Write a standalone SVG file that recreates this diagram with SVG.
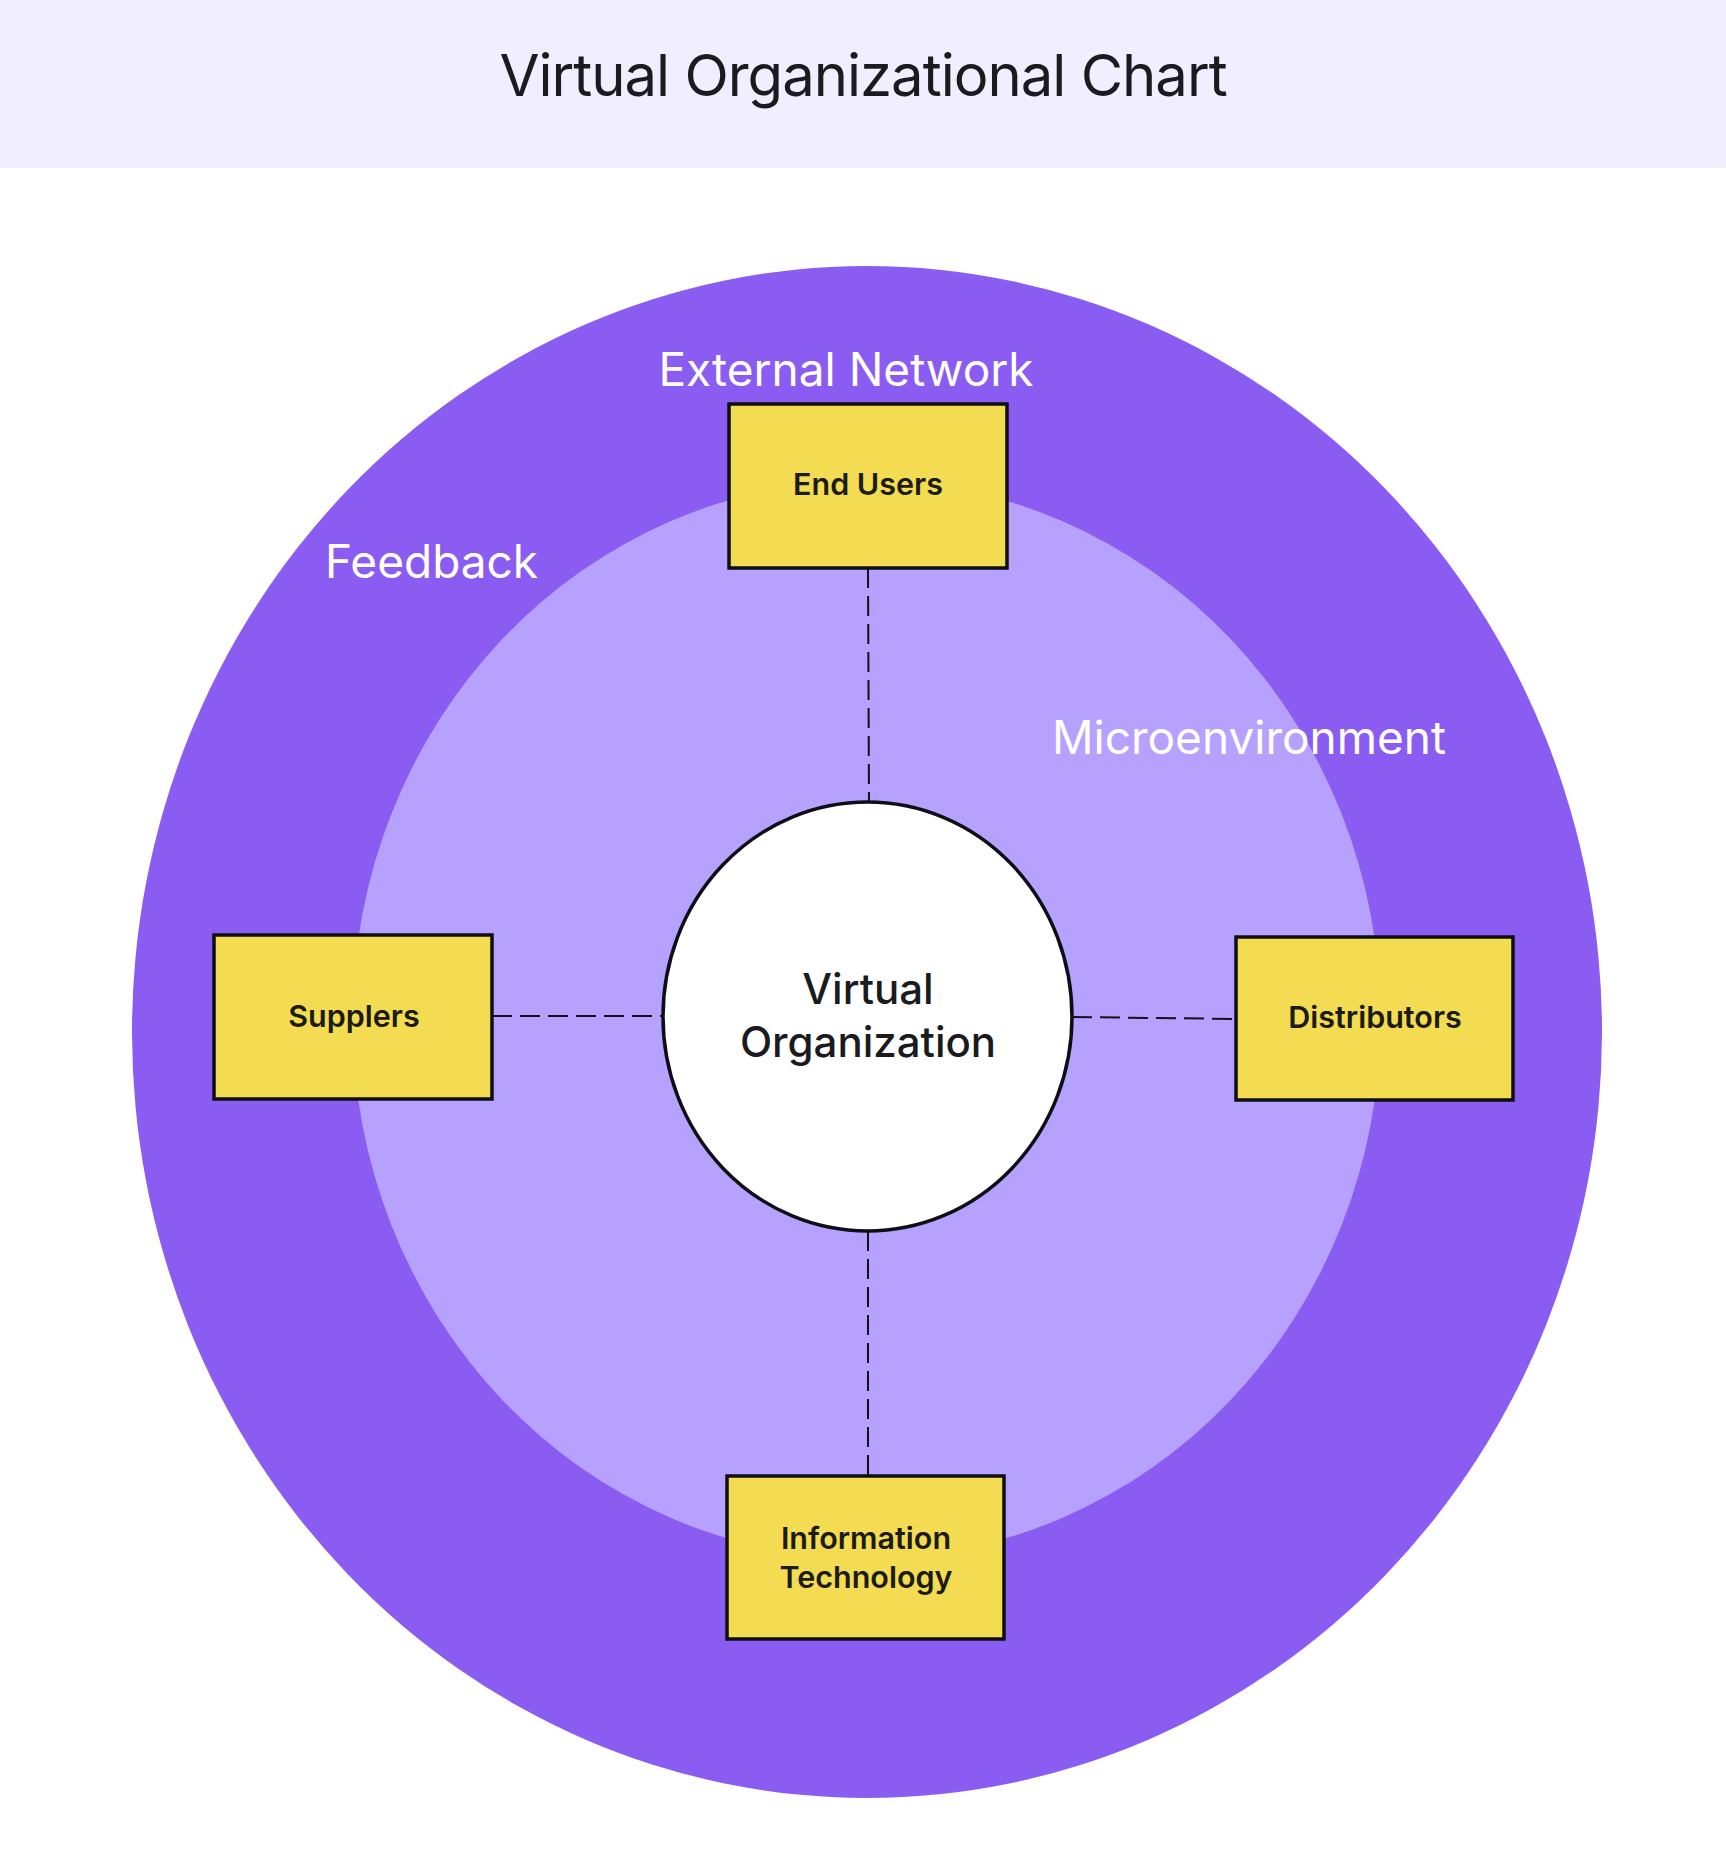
<svg xmlns="http://www.w3.org/2000/svg" width="1726" height="1859" viewBox="0 0 1726 1859">
  <style>
    .title { font-family: Inter, "Liberation Sans", sans-serif; font-size: 58px; font-weight: 400; fill: #1b1b1f; letter-spacing: -1px; }
    .zone { font-family: Inter, "Liberation Sans", sans-serif; font-size: 46px; font-weight: 400; fill: #ffffff; }
    .box { fill: #F4DC52; stroke: #0e0e16; stroke-width: 3.5; }
    .boxtext { font-family: Inter, "Liberation Sans", sans-serif; font-size: 30.5px; font-weight: 600; fill: #1b1b17; text-anchor: middle; }
    .core { fill: #ffffff; stroke: #0e0e16; stroke-width: 3.5; }
    .coretext { font-family: Inter, "Liberation Sans", sans-serif; font-size: 42px; font-weight: 500; fill: #1b1b1f; text-anchor: middle; }
    .conn { fill: none; stroke: #111118; stroke-width: 2; stroke-dasharray: 20 8; }
  </style>
  <rect x="0" y="0" width="1726" height="1859" fill="#ffffff"/>
  <g id="header">
    <rect x="0" y="0" width="1726" height="168" fill="#F0EEFF"/>
    <text class="title" x="863" y="96" text-anchor="middle">Virtual Organizational Chart</text>
  </g>
  <g id="external-network">
    <ellipse cx="867" cy="1032" rx="735" ry="766" fill="#8B5CF1"/>
    <text class="zone" x="846" y="386" text-anchor="middle">External Network</text>
    <text class="zone" x="325" y="578">Feedback</text>
  </g>
  <g id="microenvironment">
    <ellipse cx="866.5" cy="1019.5" rx="514" ry="539" fill="#B7A1FE"/>
    <text class="zone" x="1052" y="754">Microenvironment</text>
  </g>
  <g id="connectors">
    <line class="conn" x1="868" y1="568" x2="869" y2="802"/>
    <line class="conn" x1="492" y1="1016" x2="663" y2="1016"/>
    <line class="conn" x1="1072" y1="1017" x2="1236" y2="1019"/>
    <line class="conn" x1="868" y1="1231" x2="868" y2="1476"/>
  </g>
  <g id="virtual-organization">
    <ellipse class="core" cx="867.5" cy="1016.5" rx="204.5" ry="214.5"/>
    <text class="coretext" x="868" y="1004">Virtual</text>
    <text class="coretext" x="868" y="1057">Organization</text>
  </g>
  <g id="end-users">
    <rect class="box" x="729" y="404" width="278" height="164"/>
    <text class="boxtext" x="868" y="495">End Users</text>
  </g>
  <g id="suppliers">
    <rect class="box" x="214" y="935" width="278" height="164"/>
    <text class="boxtext" x="354" y="1027">Supplers</text>
  </g>
  <g id="distributors">
    <rect class="box" x="1236" y="937" width="277" height="163"/>
    <text class="boxtext" x="1375" y="1028">Distributors</text>
  </g>
  <g id="information-technology">
    <rect class="box" x="727" y="1476" width="277" height="163"/>
    <text class="boxtext" x="866" y="1549">Information</text>
    <text class="boxtext" x="866" y="1588">Technology</text>
  </g>
</svg>
